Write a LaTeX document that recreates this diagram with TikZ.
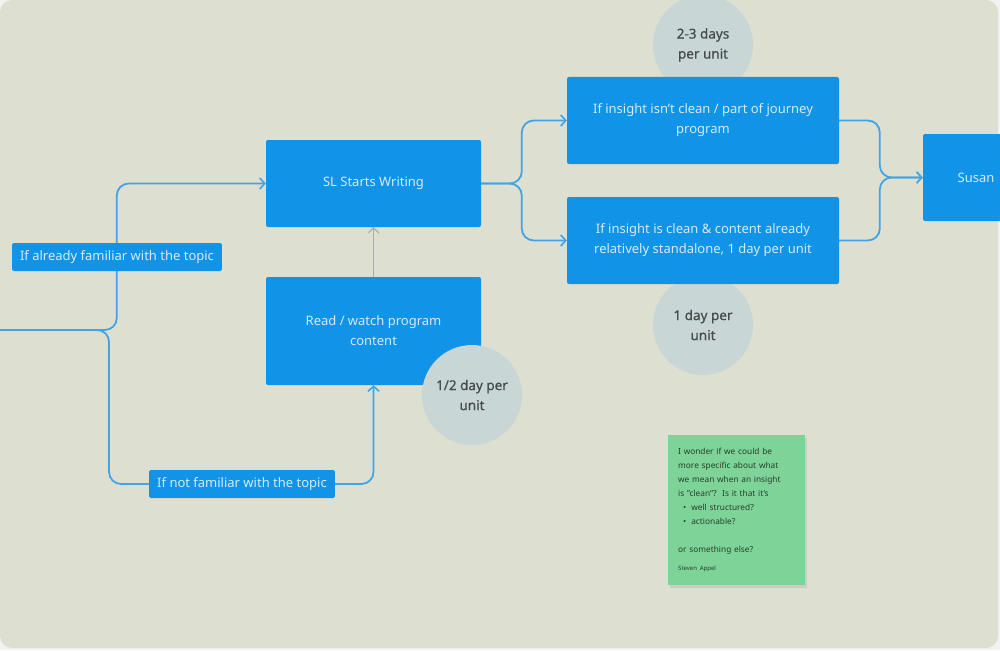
\documentclass[tikz,border=0pt]{standalone}
\usepackage{fontspec}
\setmainfont{Noto Sans}
\newfontfamily\timefont{Noto Sans}[FakeBold=0.6]
\usetikzlibrary{arrows.meta,backgrounds}
\definecolor{boardbg}{RGB}{221,224,208}
\definecolor{outerbg}{RGB}{242,242,240}
\definecolor{stepblue}{RGB}{17,148,232}
\definecolor{steptext}{RGB}{214,234,251}
\definecolor{linkblue}{RGB}{66,163,230}
\definecolor{linkgray}{RGB}{170,174,170}
\definecolor{timecol}{RGB}{200,214,214}
\definecolor{timetext}{RGB}{70,76,76}
\definecolor{notegreen}{RGB}{126,211,152}
\definecolor{notetext}{RGB}{38,62,44}
\tikzset{
  stepbox/.style={rectangle,fill=stepblue,rounded corners=2pt,text=steptext,align=center,
    minimum height=87pt,font=\fontsize{13}{20}\selectfont},
  cond/.style={rectangle,fill=stepblue,rounded corners=1.5pt,text=steptext,inner xsep=8pt,
    minimum height=28pt,font=\fontsize{13}{15}\selectfont},
  timing/.style={circle,fill=timecol,text=timetext,minimum size=100pt,align=center,inner sep=0pt,
    font=\timefont\fontsize{13.5}{20}\selectfont},
  link/.style={draw=linkblue,line width=1.8pt,rounded corners=12pt},
  tip/.style={-{Straight Barb[length=5pt,width=11pt,line width=1.6pt]}},
}
\begin{document}
\begin{tikzpicture}[x=1pt,y=-1pt]
  \useasboundingbox (0,0) rectangle (1000,650);
  \node[timing] (twothree) at (703,45) {2-3 days\\per unit};
  \node[timing] (oneday) at (703,325) {1 day per\\unit};
  \node[stepbox,minimum width=215pt] (write) at (373.5,183.5) {SL Starts Writing};
  \node[stepbox,minimum width=215pt,minimum height=108pt] (read) at (373.5,331) {Read / watch program\\content};
  \node[timing] (halfday) at (472,395) {1/2 day per\\unit};
  \node[stepbox,minimum width=272pt] (unclean) at (703,120.5) {If insight isn't clean / part of journey\\program};
  \node[stepbox,minimum width=272pt] (clean) at (703,240.5) {If insight is clean \& content already\\relatively standalone, 1 day per unit};
  \node[stepbox,minimum width=106pt] (susan) at (976,177.5) {Susan};
  \node[cond] (known) at (117,257) {If already familiar with the topic};
  \node[cond] (unknown) at (242,484) {If not familiar with the topic};
  \coordinate (start) at (-2,330);
  \begin{pgfonlayer}{background}
    \fill[outerbg] (0,0) rectangle (1000,650);
    \fill[boardbg,rounded corners=12pt] (0,0) rectangle (998,648);
    \draw[link,tip] (start) -| ([xshift=-149pt]write.west) -- (write.west);
    \draw[link] (start) -| ([xshift=-40pt]unknown.west) -- (unknown.west);
    \draw[link,tip] (unknown.east) -| (read.south);
    \draw[draw=linkgray,line width=1.2pt,-{Straight Barb[length=5pt,width=11pt]}] (read.north) -- (write.south);
    \draw[link,tip] (write.east) -| ([xshift=-45pt]unclean.west) -- (unclean.west);
    \draw[link,tip] (write.east) -| ([xshift=-45pt]clean.west) -- (clean.west);
    \draw[link,tip] (unclean.east) -| ([xshift=-43pt]susan.west) -- (susan.west);
    \draw[link,tip] (clean.east) -| ([xshift=-43pt]susan.west) -- (susan.west);
  \end{pgfonlayer}
  \fill[black,opacity=0.08] (670,438) rectangle (807,588);
  \node[fill=notegreen,anchor=north west,minimum width=137pt,minimum height=150pt,text width=117pt,
    inner sep=10pt,align=left,text=notetext,font=\fontsize{8.3}{14}\selectfont] (note) at (668,435)
    {I wonder if we could be\\more specific about what\\we mean when an insight\\is "clean"?\ \ Is it that it's\\
     \hspace*{5pt}\textbullet\hspace{5pt}well structured?\\\hspace*{5pt}\textbullet\hspace{5pt}actionable?\\[14pt]
     or something else?\\[4pt]{\fontsize{6}{8}\selectfont Steven Appel}};
\end{tikzpicture}
\end{document}
